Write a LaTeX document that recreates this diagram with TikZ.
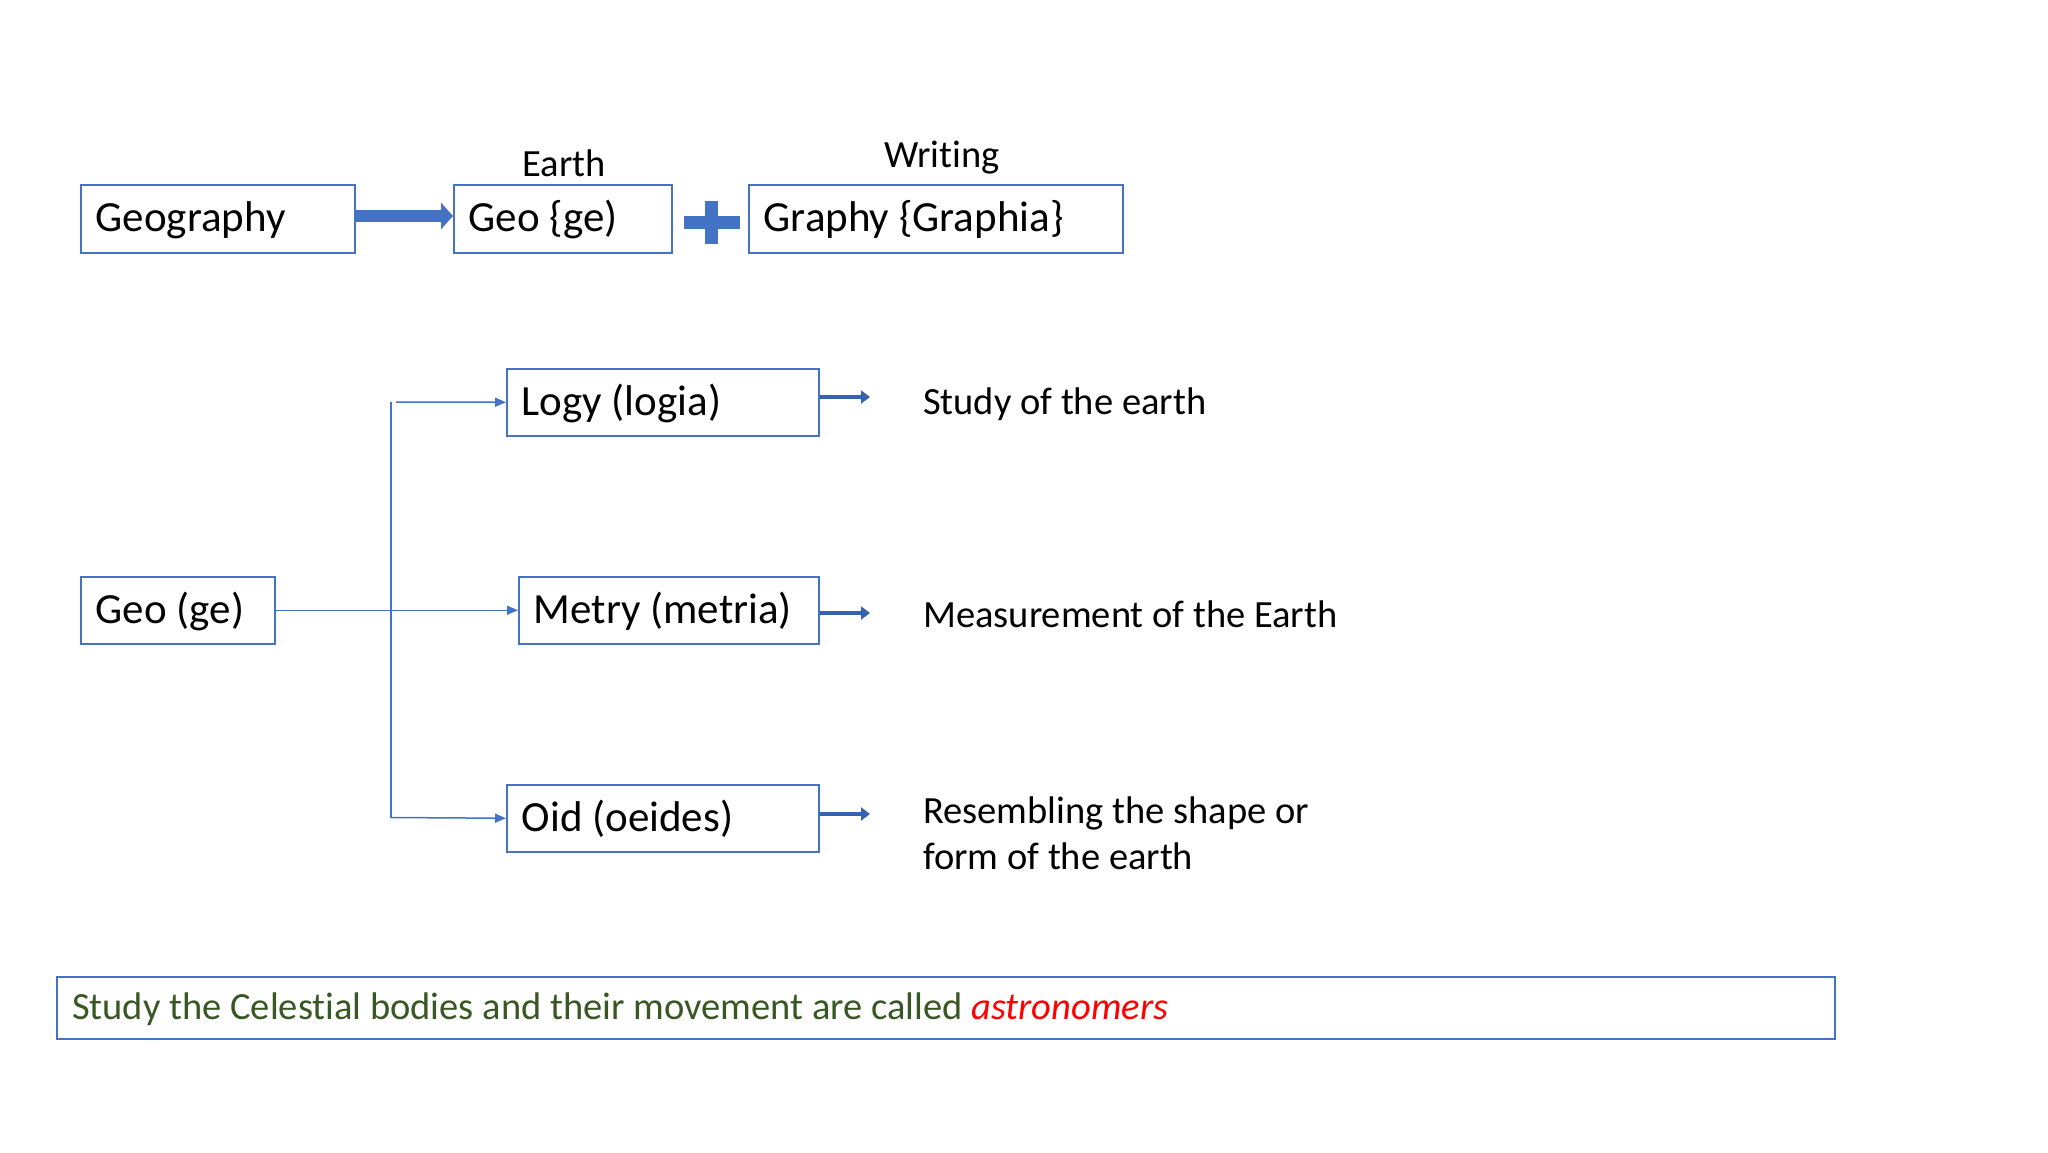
\documentclass[tikz,border=0pt]{standalone}
\usepackage{fontspec}
\setmainfont{Carlito}[Ligatures=NoCommon]
\usetikzlibrary{arrows.meta}
\definecolor{boxblue}{HTML}{4472C4}
\definecolor{darkblue}{HTML}{3762B0}
\definecolor{txtgreen}{HTML}{385723}
\definecolor{txtred}{HTML}{FF0000}
\tikzset{
  tbox/.style={draw=boxblue, line width=1.5pt, inner xsep=15pt, inner ysep=0pt,
    anchor=north west, align=flush left, text width=#1, text height=31pt, text depth=5pt,
    font=\fontsize{43}{50}\selectfont},
  lbl/.style={inner sep=0pt, font=\fontsize{38.5}{46}\selectfont},
  thin/.style={draw=boxblue, line width=1.5pt},
  thinarrow/.style={thin, -{Triangle[length=11pt,width=9pt]}},
  fatarrow/.style={draw=darkblue, line width=4pt, -{Triangle[length=9pt,width=13pt]}},
}
\begin{document}
\begin{tikzpicture}[x=1pt,y=-1pt]
\useasboundingbox (0,0) rectangle (2048,1152);
% top row
\node[tbox=244pt, minimum height=68pt] (geography) at (80,184) {Geography};
\node[tbox=188pt, minimum height=68pt] (geo1) at (453,184) {Geo \{ge)};
\node[tbox=344pt, minimum height=68pt] (graphy) at (748,184) {Graphy \{Graphia\}};
\node[lbl] (earth) at (564,163) {Earth};
\node[lbl] (writing) at (942,158) {Writing};
\draw[boxblue, line width=12pt, -{Triangle[length=12pt,width=26pt]}] (geography.east |- 0,216) -- (geo1.west |- 0,216);
\fill[boxblue] (684,216) rectangle (740,229);
\fill[boxblue] (705,201) rectangle (718,244);
% tree
\node[tbox=164pt, minimum height=67pt] (geo2) at (80,576) {Geo (ge)};
\node[tbox=282pt, minimum height=67pt] (logy) at (506,368) {Logy (logia)};
\node[tbox=270pt, minimum height=67pt] (metry) at (518,576) {Metry (metria)};
\node[tbox=282pt, minimum height=67pt] (oid) at (506,784) {Oid (oeides)};
\coordinate (ttop) at (391,402);
\coordinate (tbot) at (391,817.5);
\coordinate (tstart) at (396,402);
\draw[thin] (ttop) -- (tbot);
\draw[thinarrow] (tstart) -- (logy.west);
\draw[thinarrow] (geo2.east) -- (metry.west);
\draw[thinarrow] (tbot) -- (oid.west);
% right arrows
\coordinate (r1) at (870,397);
\coordinate (r2) at (870,613);
\coordinate (r3) at (870,814);
\draw[fatarrow] (logy.east |- r1) -- (r1);
\draw[fatarrow] (metry.east |- r2) -- (r2);
\draw[fatarrow] (oid.east |- r3) -- (r3);
\node[lbl, anchor=west] (t1) at (923,404) {Study of the earth};
\node[lbl, anchor=west] (t2) at (923,614) {Measurement of the Earth};
\node[lbl, anchor=west, align=flush left] (t3) at (923,833) {Resembling the shape or\\form of the earth};
% bottom
\node[draw=boxblue, line width=1.5pt, minimum width=1778pt, minimum height=62pt, anchor=north west, inner sep=0pt] (bottom) at (56,976) {};
\node[lbl, anchor=west, text=txtgreen] (btext) at (72,1009) {Study the Celestial bodies and their movement are called \textcolor{txtred}{\itshape astronomers}};
\end{tikzpicture}
\end{document}
